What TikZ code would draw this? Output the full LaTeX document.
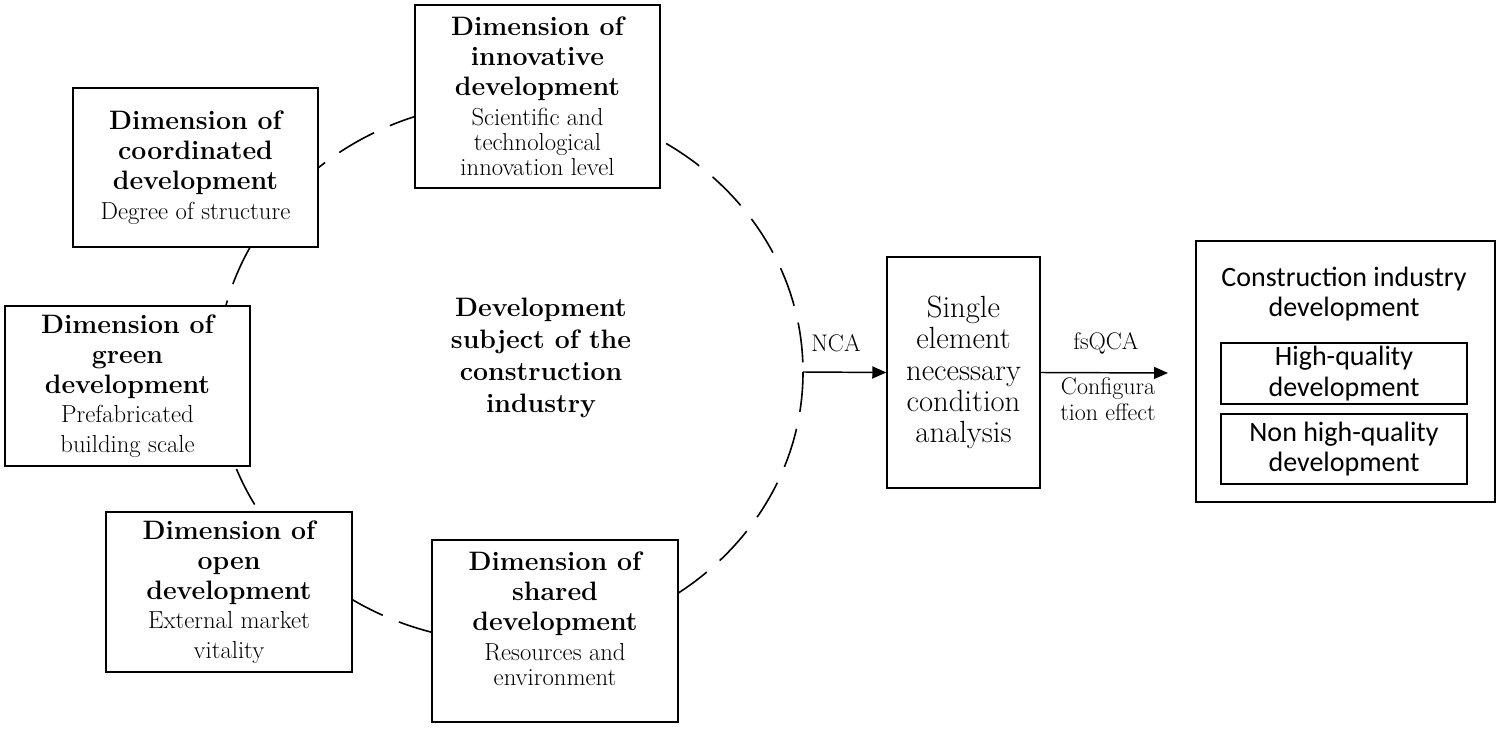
\documentclass[tikz,border=0pt]{standalone}
\usepackage{fontspec}
\newfontfamily\calib{Carlito}
\usetikzlibrary{arrows.meta}
\newcommand\ttlf{\fontsize{20}{22.5}\selectfont\bfseries}
\newcommand\subf{\fontsize{18.5}{18.75}\selectfont\mdseries}
\newcommand\regf{\fontsize{23}{23.5}\selectfont}
\newcommand\lblf{\fontsize{18}{19.5}\selectfont}
\newcommand\calf{\calib\fontsize{21}{23}\selectfont}
\begin{document}
\begin{tikzpicture}[x=0.75pt,y=-0.75pt,
  box/.style={draw,line width=1.1pt,fill=white,align=center,inner sep=0pt},
  dimbox/.style={box,minimum width={245*0.75pt},font=\ttlf},
  txt/.style={align=center,inner sep=0pt},
  arr/.style={line width=1.1pt,-{Triangle[length=10.5pt,width=9pt]}},
  ring/.style={line width=1.2pt,dash pattern=on 30pt off 13pt}]
\useasboundingbox (0,0) rectangle (1499,730);
\fill[white] (0,0) rectangle (1499,730);
% dashed ring
\draw[ring] (510,372) ellipse [x radius=293, y radius=270];
\coordinate (ce) at (803,372);
\coordinate (fe) at (1168,373);
% dimension boxes
\node[dimbox,minimum height={183*0.75pt}] (inn) at (537.5,96.5)
  {Dimension of\\innovative\\development\\\subf Scientific and\\[-3.75pt]\subf technological\\[-3.75pt]\subf innovation level};
\node[dimbox,minimum height={159*0.75pt}] (coo) at (195.5,167.5)
  {Dimension of\\coordinated\\development\\\subf Degree of structure};
\node[dimbox,minimum height={160*0.75pt}] (gre) at (127.5,386)
  {Dimension of\\green\\development\\[-1pt]\subf Prefabricated\\\subf building scale};
\node[dimbox,minimum width={246*0.75pt},minimum height={160*0.75pt}] (ope) at (229,592)
  {Dimension of\\open\\development\\[-1pt]\subf External market\\\subf vitality};
\node[dimbox,minimum width={246*0.75pt},minimum height={182*0.75pt},text depth=18pt] (sha) at (555,631)
  {Dimension of\\shared\\development\\\subf Resources and\\[-3.75pt]\subf environment};
% centre text
\node[txt,font={\fontsize{20}{24}\selectfont\bfseries}] (subj) at (541,358)
  {Development\\subject of the\\construction\\industry};
% single element box
\node[box,font=\regf,minimum width={153*0.75pt},minimum height={231*0.75pt}] (sin) at (963.5,372.5)
  {Single\\element\\necessary\\condition\\analysis};
% outcome box
\node[box,minimum width={299*0.75pt},minimum height={261*0.75pt}] (out) at (1345.5,371.5) {};
\node[txt,font=\calf] (ctit) at (1344,294) {Construction industry\\development};
\node[box,font=\calf,minimum width={246*0.75pt},minimum height={61*0.75pt}] (hq) at (1344,373.5)
  {High-quality\\development};
\node[box,font=\calf,minimum width={246*0.75pt},minimum height={70*0.75pt}] (nhq) at (1344,449)
  {Non high-quality\\development};
% arrows
\draw[arr] (ce) -- (sin.west);
\draw[arr] (sin.east) -- (fe);
\node[txt,font=\lblf] (nca) at (836,343) {NCA};
\node[txt,font=\lblf] (fsq) at (1106,343) {fsQCA};
\node[txt,font=\lblf] (conf) at (1108,399) {Configura\\tion effect};
\end{tikzpicture}
\end{document}
